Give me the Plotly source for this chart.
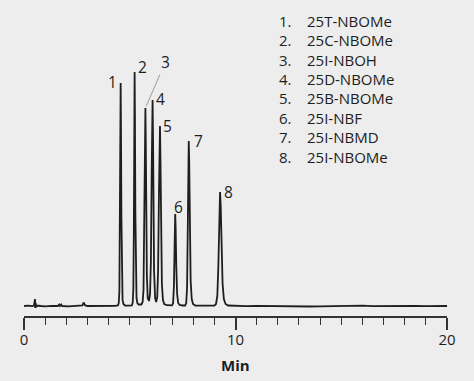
import plotly.graph_objects as go

# ---- data ----
time_min = [
    0.00, 0.20, 0.40, 0.47, 0.50, 0.52, 0.53, 0.55, 0.58, 0.62, 0.80, 1.00, 1.30, 1.60, 1.66, 1.70,
    1.76, 1.80, 2.10, 2.50, 2.76, 2.82, 2.88, 3.00, 3.50, 4.00, 4.30,
    4.44, 4.48, 4.51, 4.535, 4.555, 4.57, 4.585, 4.605, 4.63, 4.66, 4.70, 4.78, 4.95,
    5.10, 5.14, 5.17, 5.195, 5.215, 5.23, 5.245, 5.265, 5.29, 5.32, 5.36, 5.42,
    5.55, 5.61, 5.65, 5.68, 5.71, 5.74, 5.76, 5.78, 5.81, 5.85,
    5.91, 5.96, 6.00, 6.04, 6.08, 6.10, 6.12, 6.15, 6.20,
    6.25, 6.30, 6.34, 6.38, 6.43, 6.45, 6.48, 6.52, 6.57, 6.63, 6.75, 6.95,
    7.00, 7.05, 7.09, 7.12, 7.15, 7.17, 7.20, 7.24, 7.29, 7.36, 7.50,
    7.62, 7.67, 7.71, 7.745, 7.775, 7.79, 7.81, 7.84, 7.88, 7.93, 7.99, 8.10, 8.50,
    9.00, 9.08, 9.14, 9.19, 9.23, 9.27, 9.30, 9.34, 9.39, 9.45, 9.53, 9.65, 10.00,
    10.5, 11.0, 11.5, 12.0, 12.5, 13.0, 13.5, 14.0, 14.5, 15.0, 15.5, 16.0, 16.5, 17.0,
    17.5, 18.0, 18.5, 19.0, 19.5, 20.0,
]
signal = [
    0.0, 0.3, -0.2, 0.5, 4, 7, -2, 3, -1, 0.5, 0, -0.3, 0.2, 0, 1.5, 0,
    1.5, 0, -0.3, 0.1, 0.5, 3.5, 0.8, 0, -0.2, 0, 0.2,
    0.5, 3, 15, 70, 170, 223, 180, 90, 25, 6, 2, 0.5, 0.3,
    0.6, 3.5, 17, 80, 185, 234, 190, 95, 28, 8, 3, 1.5,
    1.5, 4, 16, 60, 150, 198, 160, 90, 30, 8,
    5, 12, 45, 140, 206, 170, 100, 35, 8,
    4, 9, 35, 110, 180, 150, 75, 22, 6, 2, 0.8, 0.5,
    0.6, 3, 20, 60, 92, 78, 40, 12, 3, 1, 0.5,
    0.5, 3, 18, 80, 150, 165, 145, 80, 25, 7, 2, 0.5, 0.2,
    0.3, 2, 10, 40, 90, 114, 100, 60, 22, 7, 2, 0.5, 0,
    -0.2, 0.2, 0, -0.3, 0.1, -0.2, -0.5, -0.3, 0, 0.2, -0.1, 0.3, -0.2, 0,
    0.3, -0.2, 0.1, -0.2, 0.2, 0,
]

peak_ids = ["1", "2", "3", "4", "5", "6", "7", "8"]
peak_time = [4.57, 5.23, 5.74, 6.08, 6.43, 7.15, 7.79, 9.27]
peak_height = [223, 234, 198, 206, 180, 92, 165, 114]
compound_names = ["25T-NBOMe", "25C-NBOMe", "25I-NBOH", "25D-NBOMe",
                  "25B-NBOMe", "25I-NBF", "25I-NBMD", "25I-NBOMe"]
x_tick_values = [0, 10, 20]
x_title = "Min"

# ---- layout constants ----
W, H = 474, 381
ML, MR, MT, MB = 24, 27, 10, 65
PW, PH = W - ML - MR, H - MT - MB
FONT = "Open Sans"
INK = "#1e1e1e"
BG = "#ededed"

fig = go.Figure()
fig.add_trace(go.Scatter(x=time_min, y=signal, mode="lines",
                         line=dict(color=INK, width=1.8), hoverinfo="skip"))

# label offsets (pixels) relative to each apex
label_shift = {"1": (-8, 1), "2": (8, 5), "4": (7.5, 1), "5": (7.5, 0),
               "6": (3.5, 7), "7": (9.5, 0), "8": (8.5, 0)}
ann = []
for pid, t, h in zip(peak_ids, peak_time, peak_height):
    if pid == "3":
        ann.append(dict(x=t, y=h, xref="x", yref="y", text=pid, showarrow=True,
                        arrowhead=0, arrowwidth=1, arrowcolor="#9a9a9a", standoff=2,
                        ax=20, ay=-46, font=dict(family=FONT, size=15.5, color=INK)))
    else:
        dx, dy = label_shift[pid]
        ann.append(dict(x=t, y=h, xref="x", yref="y", text=pid, showarrow=False,
                        xshift=dx, yshift=dy, xanchor="center", yanchor="middle",
                        font=dict(family=FONT, size=15.5, color=INK)))

# legend list at top right
row0, row_gap = 20.8, 19.4
for i, name in enumerate(compound_names):
    py = row0 + i * row_gap
    yp = (H - MB - py) / PH
    ann.append(dict(x=(277 - ML) / PW, y=yp, xref="paper", yref="paper",
                    text=f"{i+1}.", showarrow=False, xanchor="left", yanchor="middle",
                    font=dict(family=FONT, size=15, color=INK)))
    ann.append(dict(x=(305 - ML) / PW, y=yp, xref="paper", yref="paper",
                    text=name, showarrow=False, xanchor="left", yanchor="middle",
                    font=dict(family=FONT, size=15, color=INK)))

ann.append(dict(x=10, y=0, xref="x", yref="paper", text=f"<b>{x_title}</b>",
                showarrow=False, xanchor="center", yanchor="middle", yshift=-49,
                font=dict(family=FONT, size=15, color=INK)))

fig.update_layout(
    width=W, height=H,
    margin=dict(l=ML, r=MR, t=MT, b=MB, pad=0),
    paper_bgcolor=BG, plot_bgcolor=BG,
    showlegend=False,
    annotations=ann,
    xaxis=dict(range=[0, 20], tickvals=x_tick_values, ticktext=[str(v) for v in x_tick_values],
               showgrid=False, zeroline=False, showline=True, linecolor="#333333",
               linewidth=1.5, ticks="outside", ticklen=12, tickwidth=1.5,
               tickcolor="#333333", ticklabelstandoff=-3,
               minor=dict(dtick=1, tick0=0, ticks="outside", ticklen=7, tickwidth=1.2,
                          tickcolor="#333333", showgrid=False),
               tickfont=dict(family=FONT, size=15, color=INK), fixedrange=True),
    yaxis=dict(range=[-10, PH - 10], visible=False, fixedrange=True),
)

fig.write_html(
    "out.html",
    config={"displayModeBar": False},
    post_script=(
        "document.body.style.margin='0';document.body.style.padding='0';"
        "document.body.style.overflow='hidden';"
        f"document.body.style.background='{BG}';"
    ),
)
